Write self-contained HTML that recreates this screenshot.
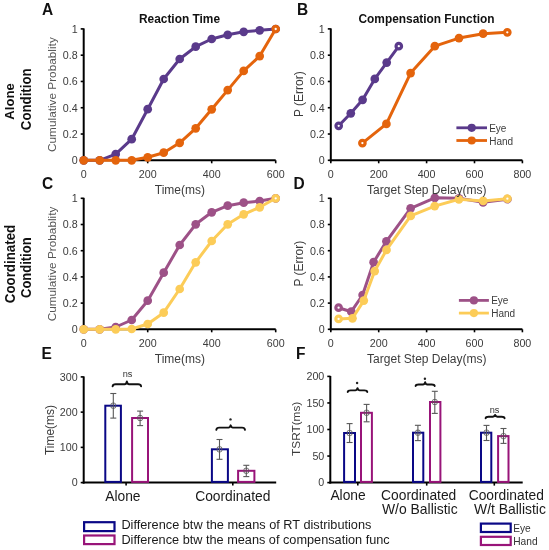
<!DOCTYPE html>
<html><head><meta charset="utf-8"><style>
html,body{margin:0;padding:0;background:#fff;}
svg{display:block;font-family:"Liberation Sans",sans-serif;will-change:transform;}
</style></head><body>
<svg width="549" height="550" viewBox="0 0 549 550">
<rect width="549" height="550" fill="#fff"/>
<line x1="83.7" y1="28.4" x2="83.7" y2="161.3" stroke="#000" stroke-width="2"/>
<line x1="82.7" y1="160.3" x2="275.7" y2="160.3" stroke="#000" stroke-width="2"/>
<line x1="80.7" y1="160.3" x2="83.7" y2="160.3" stroke="#000" stroke-width="1.6"/>
<text x="77.7" y="164.1" font-size="10.7" fill="#3c3c3c" text-anchor="end" font-weight="normal">0</text>
<line x1="80.7" y1="134.02" x2="83.7" y2="134.02" stroke="#000" stroke-width="1.6"/>
<text x="77.7" y="137.82" font-size="10.7" fill="#3c3c3c" text-anchor="end" font-weight="normal">0.2</text>
<line x1="80.7" y1="107.74" x2="83.7" y2="107.74" stroke="#000" stroke-width="1.6"/>
<text x="77.7" y="111.54" font-size="10.7" fill="#3c3c3c" text-anchor="end" font-weight="normal">0.4</text>
<line x1="80.7" y1="81.46" x2="83.7" y2="81.46" stroke="#000" stroke-width="1.6"/>
<text x="77.7" y="85.26" font-size="10.7" fill="#3c3c3c" text-anchor="end" font-weight="normal">0.6</text>
<line x1="80.7" y1="55.18" x2="83.7" y2="55.18" stroke="#000" stroke-width="1.6"/>
<text x="77.7" y="58.98" font-size="10.7" fill="#3c3c3c" text-anchor="end" font-weight="normal">0.8</text>
<line x1="80.7" y1="28.9" x2="83.7" y2="28.9" stroke="#000" stroke-width="1.6"/>
<text x="77.7" y="32.7" font-size="10.7" fill="#3c3c3c" text-anchor="end" font-weight="normal">1</text>
<line x1="83.7" y1="160.3" x2="83.7" y2="163.3" stroke="#000" stroke-width="1.6"/>
<text x="83.7" y="177.6" font-size="10.7" fill="#3c3c3c" text-anchor="middle" font-weight="normal">0</text>
<line x1="147.7" y1="160.3" x2="147.7" y2="163.3" stroke="#000" stroke-width="1.6"/>
<text x="147.7" y="177.6" font-size="10.7" fill="#3c3c3c" text-anchor="middle" font-weight="normal">200</text>
<line x1="211.7" y1="160.3" x2="211.7" y2="163.3" stroke="#000" stroke-width="1.6"/>
<text x="211.7" y="177.6" font-size="10.7" fill="#3c3c3c" text-anchor="middle" font-weight="normal">400</text>
<line x1="275.7" y1="160.3" x2="275.7" y2="163.3" stroke="#000" stroke-width="1.6"/>
<text x="275.7" y="177.6" font-size="10.7" fill="#3c3c3c" text-anchor="middle" font-weight="normal">600</text>
<line x1="330.8" y1="28.4" x2="330.8" y2="161.3" stroke="#000" stroke-width="2"/>
<line x1="329.8" y1="160.3" x2="522.4" y2="160.3" stroke="#000" stroke-width="2"/>
<line x1="327.8" y1="160.3" x2="330.8" y2="160.3" stroke="#000" stroke-width="1.6"/>
<text x="324.8" y="164.1" font-size="10.7" fill="#3c3c3c" text-anchor="end" font-weight="normal">0</text>
<line x1="327.8" y1="134.02" x2="330.8" y2="134.02" stroke="#000" stroke-width="1.6"/>
<text x="324.8" y="137.82" font-size="10.7" fill="#3c3c3c" text-anchor="end" font-weight="normal">0.2</text>
<line x1="327.8" y1="107.74" x2="330.8" y2="107.74" stroke="#000" stroke-width="1.6"/>
<text x="324.8" y="111.54" font-size="10.7" fill="#3c3c3c" text-anchor="end" font-weight="normal">0.4</text>
<line x1="327.8" y1="81.46" x2="330.8" y2="81.46" stroke="#000" stroke-width="1.6"/>
<text x="324.8" y="85.26" font-size="10.7" fill="#3c3c3c" text-anchor="end" font-weight="normal">0.6</text>
<line x1="327.8" y1="55.18" x2="330.8" y2="55.18" stroke="#000" stroke-width="1.6"/>
<text x="324.8" y="58.98" font-size="10.7" fill="#3c3c3c" text-anchor="end" font-weight="normal">0.8</text>
<line x1="327.8" y1="28.9" x2="330.8" y2="28.9" stroke="#000" stroke-width="1.6"/>
<text x="324.8" y="32.7" font-size="10.7" fill="#3c3c3c" text-anchor="end" font-weight="normal">1</text>
<line x1="330.8" y1="160.3" x2="330.8" y2="163.3" stroke="#000" stroke-width="1.6"/>
<text x="330.8" y="177.6" font-size="10.7" fill="#3c3c3c" text-anchor="middle" font-weight="normal">0</text>
<line x1="378.7" y1="160.3" x2="378.7" y2="163.3" stroke="#000" stroke-width="1.6"/>
<text x="378.7" y="177.6" font-size="10.7" fill="#3c3c3c" text-anchor="middle" font-weight="normal">200</text>
<line x1="426.6" y1="160.3" x2="426.6" y2="163.3" stroke="#000" stroke-width="1.6"/>
<text x="426.6" y="177.6" font-size="10.7" fill="#3c3c3c" text-anchor="middle" font-weight="normal">400</text>
<line x1="474.5" y1="160.3" x2="474.5" y2="163.3" stroke="#000" stroke-width="1.6"/>
<text x="474.5" y="177.6" font-size="10.7" fill="#3c3c3c" text-anchor="middle" font-weight="normal">600</text>
<line x1="522.4" y1="160.3" x2="522.4" y2="163.3" stroke="#000" stroke-width="1.6"/>
<text x="522.4" y="177.6" font-size="10.7" fill="#3c3c3c" text-anchor="middle" font-weight="normal">800</text>
<line x1="83.7" y1="197.8" x2="83.7" y2="330.3" stroke="#000" stroke-width="2"/>
<line x1="82.7" y1="329.3" x2="275.7" y2="329.3" stroke="#000" stroke-width="2"/>
<line x1="80.7" y1="329.3" x2="83.7" y2="329.3" stroke="#000" stroke-width="1.6"/>
<text x="77.7" y="333.1" font-size="10.7" fill="#3c3c3c" text-anchor="end" font-weight="normal">0</text>
<line x1="80.7" y1="303.1" x2="83.7" y2="303.1" stroke="#000" stroke-width="1.6"/>
<text x="77.7" y="306.9" font-size="10.7" fill="#3c3c3c" text-anchor="end" font-weight="normal">0.2</text>
<line x1="80.7" y1="276.9" x2="83.7" y2="276.9" stroke="#000" stroke-width="1.6"/>
<text x="77.7" y="280.7" font-size="10.7" fill="#3c3c3c" text-anchor="end" font-weight="normal">0.4</text>
<line x1="80.7" y1="250.7" x2="83.7" y2="250.7" stroke="#000" stroke-width="1.6"/>
<text x="77.7" y="254.5" font-size="10.7" fill="#3c3c3c" text-anchor="end" font-weight="normal">0.6</text>
<line x1="80.7" y1="224.5" x2="83.7" y2="224.5" stroke="#000" stroke-width="1.6"/>
<text x="77.7" y="228.3" font-size="10.7" fill="#3c3c3c" text-anchor="end" font-weight="normal">0.8</text>
<line x1="80.7" y1="198.3" x2="83.7" y2="198.3" stroke="#000" stroke-width="1.6"/>
<text x="77.7" y="202.1" font-size="10.7" fill="#3c3c3c" text-anchor="end" font-weight="normal">1</text>
<line x1="83.7" y1="329.3" x2="83.7" y2="332.3" stroke="#000" stroke-width="1.6"/>
<text x="83.7" y="346.6" font-size="10.7" fill="#3c3c3c" text-anchor="middle" font-weight="normal">0</text>
<line x1="147.7" y1="329.3" x2="147.7" y2="332.3" stroke="#000" stroke-width="1.6"/>
<text x="147.7" y="346.6" font-size="10.7" fill="#3c3c3c" text-anchor="middle" font-weight="normal">200</text>
<line x1="211.7" y1="329.3" x2="211.7" y2="332.3" stroke="#000" stroke-width="1.6"/>
<text x="211.7" y="346.6" font-size="10.7" fill="#3c3c3c" text-anchor="middle" font-weight="normal">400</text>
<line x1="275.7" y1="329.3" x2="275.7" y2="332.3" stroke="#000" stroke-width="1.6"/>
<text x="275.7" y="346.6" font-size="10.7" fill="#3c3c3c" text-anchor="middle" font-weight="normal">600</text>
<line x1="330.8" y1="197.8" x2="330.8" y2="330.3" stroke="#000" stroke-width="2"/>
<line x1="329.8" y1="329.3" x2="522.4" y2="329.3" stroke="#000" stroke-width="2"/>
<line x1="327.8" y1="329.3" x2="330.8" y2="329.3" stroke="#000" stroke-width="1.6"/>
<text x="324.8" y="333.1" font-size="10.7" fill="#3c3c3c" text-anchor="end" font-weight="normal">0</text>
<line x1="327.8" y1="303.1" x2="330.8" y2="303.1" stroke="#000" stroke-width="1.6"/>
<text x="324.8" y="306.9" font-size="10.7" fill="#3c3c3c" text-anchor="end" font-weight="normal">0.2</text>
<line x1="327.8" y1="276.9" x2="330.8" y2="276.9" stroke="#000" stroke-width="1.6"/>
<text x="324.8" y="280.7" font-size="10.7" fill="#3c3c3c" text-anchor="end" font-weight="normal">0.4</text>
<line x1="327.8" y1="250.7" x2="330.8" y2="250.7" stroke="#000" stroke-width="1.6"/>
<text x="324.8" y="254.5" font-size="10.7" fill="#3c3c3c" text-anchor="end" font-weight="normal">0.6</text>
<line x1="327.8" y1="224.5" x2="330.8" y2="224.5" stroke="#000" stroke-width="1.6"/>
<text x="324.8" y="228.3" font-size="10.7" fill="#3c3c3c" text-anchor="end" font-weight="normal">0.8</text>
<line x1="327.8" y1="198.3" x2="330.8" y2="198.3" stroke="#000" stroke-width="1.6"/>
<text x="324.8" y="202.1" font-size="10.7" fill="#3c3c3c" text-anchor="end" font-weight="normal">1</text>
<line x1="330.8" y1="329.3" x2="330.8" y2="332.3" stroke="#000" stroke-width="1.6"/>
<text x="330.8" y="346.6" font-size="10.7" fill="#3c3c3c" text-anchor="middle" font-weight="normal">0</text>
<line x1="378.7" y1="329.3" x2="378.7" y2="332.3" stroke="#000" stroke-width="1.6"/>
<text x="378.7" y="346.6" font-size="10.7" fill="#3c3c3c" text-anchor="middle" font-weight="normal">200</text>
<line x1="426.6" y1="329.3" x2="426.6" y2="332.3" stroke="#000" stroke-width="1.6"/>
<text x="426.6" y="346.6" font-size="10.7" fill="#3c3c3c" text-anchor="middle" font-weight="normal">400</text>
<line x1="474.5" y1="329.3" x2="474.5" y2="332.3" stroke="#000" stroke-width="1.6"/>
<text x="474.5" y="346.6" font-size="10.7" fill="#3c3c3c" text-anchor="middle" font-weight="normal">600</text>
<line x1="522.4" y1="329.3" x2="522.4" y2="332.3" stroke="#000" stroke-width="1.6"/>
<text x="522.4" y="346.6" font-size="10.7" fill="#3c3c3c" text-anchor="middle" font-weight="normal">800</text>
<path d="M83.70,160.30 L99.70,160.30 L115.70,154.10 L131.70,139.20 L147.70,109.20 L163.70,79.00 L179.70,59.00 L195.70,46.70 L211.70,39.00 L227.70,34.80 L243.70,31.80 L259.70,30.30 L275.70,29.00" fill="none" stroke="#5a3a8b" stroke-width="3.0" stroke-linejoin="round"/>
<circle cx="83.70" cy="160.30" r="4.35" fill="#5a3a8b"/>
<circle cx="99.70" cy="160.30" r="4.35" fill="#5a3a8b"/>
<circle cx="115.70" cy="154.10" r="4.35" fill="#5a3a8b"/>
<circle cx="131.70" cy="139.20" r="4.35" fill="#5a3a8b"/>
<circle cx="147.70" cy="109.20" r="4.35" fill="#5a3a8b"/>
<circle cx="163.70" cy="79.00" r="4.35" fill="#5a3a8b"/>
<circle cx="179.70" cy="59.00" r="4.35" fill="#5a3a8b"/>
<circle cx="195.70" cy="46.70" r="4.35" fill="#5a3a8b"/>
<circle cx="211.70" cy="39.00" r="4.35" fill="#5a3a8b"/>
<circle cx="227.70" cy="34.80" r="4.35" fill="#5a3a8b"/>
<circle cx="243.70" cy="31.80" r="4.35" fill="#5a3a8b"/>
<circle cx="259.70" cy="30.30" r="4.35" fill="#5a3a8b"/>
<circle cx="275.70" cy="29.00" r="2.75" fill="#fff" stroke="#5a3a8b" stroke-width="3.2"/>
<path d="M83.70,160.30 L99.70,160.30 L115.70,160.30 L131.70,160.30 L147.70,157.30 L163.70,152.70 L179.70,142.80 L195.70,128.30 L211.70,109.30 L227.70,90.10 L243.70,70.90 L259.70,56.10 L275.70,29.00" fill="none" stroke="#e4640c" stroke-width="3.0" stroke-linejoin="round"/>
<circle cx="83.70" cy="160.30" r="4.35" fill="#e4640c"/>
<circle cx="99.70" cy="160.30" r="4.35" fill="#e4640c"/>
<circle cx="115.70" cy="160.30" r="4.35" fill="#e4640c"/>
<circle cx="131.70" cy="160.30" r="4.35" fill="#e4640c"/>
<circle cx="147.70" cy="157.30" r="4.35" fill="#e4640c"/>
<circle cx="163.70" cy="152.70" r="4.35" fill="#e4640c"/>
<circle cx="179.70" cy="142.80" r="4.35" fill="#e4640c"/>
<circle cx="195.70" cy="128.30" r="4.35" fill="#e4640c"/>
<circle cx="211.70" cy="109.30" r="4.35" fill="#e4640c"/>
<circle cx="227.70" cy="90.10" r="4.35" fill="#e4640c"/>
<circle cx="243.70" cy="70.90" r="4.35" fill="#e4640c"/>
<circle cx="259.70" cy="56.10" r="4.35" fill="#e4640c"/>
<circle cx="275.70" cy="29.00" r="2.75" fill="#fff" stroke="#e4640c" stroke-width="3.2"/>
<path d="M83.70,329.30 L99.70,329.30 L115.70,327.00 L131.70,320.00 L147.70,300.70 L163.70,272.70 L179.70,245.00 L195.70,224.30 L211.70,212.30 L227.70,205.70 L243.70,202.70 L259.70,201.00 L275.70,198.30" fill="none" stroke="#9d5187" stroke-width="3.0" stroke-linejoin="round"/>
<circle cx="83.70" cy="329.30" r="4.35" fill="#9d5187"/>
<circle cx="99.70" cy="329.30" r="4.35" fill="#9d5187"/>
<circle cx="115.70" cy="327.00" r="4.35" fill="#9d5187"/>
<circle cx="131.70" cy="320.00" r="4.35" fill="#9d5187"/>
<circle cx="147.70" cy="300.70" r="4.35" fill="#9d5187"/>
<circle cx="163.70" cy="272.70" r="4.35" fill="#9d5187"/>
<circle cx="179.70" cy="245.00" r="4.35" fill="#9d5187"/>
<circle cx="195.70" cy="224.30" r="4.35" fill="#9d5187"/>
<circle cx="211.70" cy="212.30" r="4.35" fill="#9d5187"/>
<circle cx="227.70" cy="205.70" r="4.35" fill="#9d5187"/>
<circle cx="243.70" cy="202.70" r="4.35" fill="#9d5187"/>
<circle cx="259.70" cy="201.00" r="4.35" fill="#9d5187"/>
<circle cx="275.70" cy="198.30" r="2.75" fill="#fff" stroke="#9d5187" stroke-width="3.2"/>
<path d="M83.70,329.30 L99.70,329.30 L115.70,329.30 L131.70,329.00 L147.70,324.00 L163.70,312.70 L179.70,289.00 L195.70,262.30 L211.70,241.00 L227.70,224.30 L243.70,214.30 L259.70,207.30 L275.70,198.30" fill="none" stroke="#fccc58" stroke-width="3.0" stroke-linejoin="round"/>
<circle cx="83.70" cy="329.30" r="4.35" fill="#fccc58"/>
<circle cx="99.70" cy="329.30" r="4.35" fill="#fccc58"/>
<circle cx="115.70" cy="329.30" r="4.35" fill="#fccc58"/>
<circle cx="131.70" cy="329.00" r="4.35" fill="#fccc58"/>
<circle cx="147.70" cy="324.00" r="4.35" fill="#fccc58"/>
<circle cx="163.70" cy="312.70" r="4.35" fill="#fccc58"/>
<circle cx="179.70" cy="289.00" r="4.35" fill="#fccc58"/>
<circle cx="195.70" cy="262.30" r="4.35" fill="#fccc58"/>
<circle cx="211.70" cy="241.00" r="4.35" fill="#fccc58"/>
<circle cx="227.70" cy="224.30" r="4.35" fill="#fccc58"/>
<circle cx="243.70" cy="214.30" r="4.35" fill="#fccc58"/>
<circle cx="259.70" cy="207.30" r="4.35" fill="#fccc58"/>
<circle cx="275.70" cy="198.30" r="2.75" fill="#fff" stroke="#fccc58" stroke-width="3.2"/>
<path d="M338.70,125.80 L350.80,113.30 L362.60,99.80 L374.80,78.90 L386.70,62.60 L398.80,46.20" fill="none" stroke="#5a3a8b" stroke-width="3.0" stroke-linejoin="round"/>
<circle cx="338.70" cy="125.80" r="2.75" fill="#fff" stroke="#5a3a8b" stroke-width="3.2"/>
<circle cx="350.80" cy="113.30" r="4.35" fill="#5a3a8b"/>
<circle cx="362.60" cy="99.80" r="4.35" fill="#5a3a8b"/>
<circle cx="374.80" cy="78.90" r="4.35" fill="#5a3a8b"/>
<circle cx="386.70" cy="62.60" r="4.35" fill="#5a3a8b"/>
<circle cx="398.80" cy="46.20" r="2.75" fill="#fff" stroke="#5a3a8b" stroke-width="3.2"/>
<path d="M362.40,143.10 L386.40,123.90 L410.60,73.10 L434.80,46.20 L459.00,38.10 L483.10,33.70 L507.30,32.30" fill="none" stroke="#e4640c" stroke-width="3.0" stroke-linejoin="round"/>
<circle cx="362.40" cy="143.10" r="2.75" fill="#fff" stroke="#e4640c" stroke-width="3.2"/>
<circle cx="386.40" cy="123.90" r="4.35" fill="#e4640c"/>
<circle cx="410.60" cy="73.10" r="4.35" fill="#e4640c"/>
<circle cx="434.80" cy="46.20" r="4.35" fill="#e4640c"/>
<circle cx="459.00" cy="38.10" r="4.35" fill="#e4640c"/>
<circle cx="483.10" cy="33.70" r="4.35" fill="#e4640c"/>
<circle cx="507.30" cy="32.30" r="2.75" fill="#fff" stroke="#e4640c" stroke-width="3.2"/>
<path d="M338.60,307.70 L351.30,311.70 L362.60,295.00 L373.60,262.20 L386.40,241.30 L410.60,208.30 L434.80,197.80 L459.00,198.30 L483.10,202.30 L507.40,199.20" fill="none" stroke="#9d5187" stroke-width="3.0" stroke-linejoin="round"/>
<circle cx="338.60" cy="307.70" r="2.75" fill="#fff" stroke="#9d5187" stroke-width="3.2"/>
<circle cx="351.30" cy="311.70" r="4.35" fill="#9d5187"/>
<circle cx="362.60" cy="295.00" r="4.35" fill="#9d5187"/>
<circle cx="373.60" cy="262.20" r="4.35" fill="#9d5187"/>
<circle cx="386.40" cy="241.30" r="4.35" fill="#9d5187"/>
<circle cx="410.60" cy="208.30" r="4.35" fill="#9d5187"/>
<circle cx="434.80" cy="197.80" r="4.35" fill="#9d5187"/>
<circle cx="459.00" cy="198.30" r="4.35" fill="#9d5187"/>
<circle cx="483.10" cy="202.30" r="4.35" fill="#9d5187"/>
<circle cx="507.40" cy="199.20" r="2.75" fill="#fff" stroke="#9d5187" stroke-width="3.2"/>
<path d="M338.60,318.90 L352.50,318.30 L363.80,300.60 L374.70,271.10 L386.50,249.90 L410.70,215.90 L434.70,206.10 L458.90,199.30 L483.20,200.90 L507.40,198.70" fill="none" stroke="#fccc58" stroke-width="3.0" stroke-linejoin="round"/>
<circle cx="338.60" cy="318.90" r="2.75" fill="#fff" stroke="#fccc58" stroke-width="3.2"/>
<circle cx="352.50" cy="318.30" r="4.35" fill="#fccc58"/>
<circle cx="363.80" cy="300.60" r="4.35" fill="#fccc58"/>
<circle cx="374.70" cy="271.10" r="4.35" fill="#fccc58"/>
<circle cx="386.50" cy="249.90" r="4.35" fill="#fccc58"/>
<circle cx="410.70" cy="215.90" r="4.35" fill="#fccc58"/>
<circle cx="434.70" cy="206.10" r="4.35" fill="#fccc58"/>
<circle cx="458.90" cy="199.30" r="4.35" fill="#fccc58"/>
<circle cx="483.20" cy="200.90" r="4.35" fill="#fccc58"/>
<circle cx="507.40" cy="198.70" r="2.75" fill="#fff" stroke="#fccc58" stroke-width="3.2"/>
<line x1="456.4" y1="127.8" x2="487" y2="127.8" stroke="#5a3a8b" stroke-width="2.8"/>
<circle cx="471.7" cy="127.8" r="4.1" fill="#5a3a8b"/>
<text x="489.2" y="131.6" font-size="10" fill="#3c3c3c" text-anchor="start" font-weight="normal">Eye</text>
<line x1="456.4" y1="140.5" x2="487" y2="140.5" stroke="#e4640c" stroke-width="2.8"/>
<circle cx="471.7" cy="140.5" r="4.1" fill="#e4640c"/>
<text x="489.2" y="144.6" font-size="10" fill="#3c3c3c" text-anchor="start" font-weight="normal">Hand</text>
<line x1="458.9" y1="300.4" x2="488.9" y2="300.4" stroke="#9d5187" stroke-width="2.8"/>
<circle cx="473.9" cy="300.4" r="4.1" fill="#9d5187"/>
<text x="491.2" y="303.9" font-size="10" fill="#3c3c3c" text-anchor="start" font-weight="normal">Eye</text>
<line x1="458.9" y1="313.1" x2="488.9" y2="313.1" stroke="#fccc58" stroke-width="2.8"/>
<circle cx="473.9" cy="313.1" r="4.1" fill="#fccc58"/>
<text x="491.2" y="316.7" font-size="10" fill="#3c3c3c" text-anchor="start" font-weight="normal">Hand</text>
<text x="42.1" y="15.3" font-size="16.7" fill="#111" text-anchor="start" font-weight="bold" textLength="11.19" lengthAdjust="spacingAndGlyphs">A</text>
<text x="296.9" y="15.3" font-size="16.7" fill="#111" text-anchor="start" font-weight="bold" textLength="11.19" lengthAdjust="spacingAndGlyphs">B</text>
<text x="42.1" y="189.2" font-size="16.7" fill="#111" text-anchor="start" font-weight="bold" textLength="11.19" lengthAdjust="spacingAndGlyphs">C</text>
<text x="293.6" y="189.2" font-size="16.7" fill="#111" text-anchor="start" font-weight="bold" textLength="11.19" lengthAdjust="spacingAndGlyphs">D</text>
<text x="41.4" y="359.4" font-size="16.7" fill="#111" text-anchor="start" font-weight="bold" textLength="10.34" lengthAdjust="spacingAndGlyphs">E</text>
<text x="296" y="359.1" font-size="16.7" fill="#111" text-anchor="start" font-weight="bold" textLength="9.47" lengthAdjust="spacingAndGlyphs">F</text>
<text x="179.5" y="23.3" font-size="11.9" fill="#111" text-anchor="middle" font-weight="bold">Reaction Time</text>
<text x="426.5" y="23.3" font-size="11.9" fill="#111" text-anchor="middle" font-weight="bold">Compensation Function</text>
<text x="179.9" y="193.6" font-size="12" fill="#3c3c3c" text-anchor="middle" font-weight="normal">Time(ms)</text>
<text x="426.8" y="193.6" font-size="12" fill="#3c3c3c" text-anchor="middle" font-weight="normal">Target Step Delay(ms)</text>
<text x="179.9" y="362.7" font-size="12" fill="#3c3c3c" text-anchor="middle" font-weight="normal">Time(ms)</text>
<text x="426.8" y="362.7" font-size="12" fill="#3c3c3c" text-anchor="middle" font-weight="normal">Target Step Delay(ms)</text>
<text x="56.3" y="94.6" font-size="11.8" fill="#555" text-anchor="middle" font-weight="normal" transform="rotate(-90 56.3 94.6)">Cumulative Probablity</text>
<text x="56.3" y="264" font-size="11.8" fill="#555" text-anchor="middle" font-weight="normal" transform="rotate(-90 56.3 264)">Cumulative Probablity</text>
<text x="302.7" y="94.2" font-size="12" fill="#3c3c3c" text-anchor="middle" font-weight="normal" transform="rotate(-90 302.7 94.2)">P (Error)</text>
<text x="302.7" y="263.6" font-size="12" fill="#3c3c3c" text-anchor="middle" font-weight="normal" transform="rotate(-90 302.7 263.6)">P (Error)</text>
<text x="14.4" y="101.5" font-size="13.6" fill="#111" text-anchor="middle" font-weight="bold" transform="rotate(-90 14.4 101.5)" textLength="36.3" lengthAdjust="spacingAndGlyphs">Alone</text>
<text x="30.9" y="99.3" font-size="13.9" fill="#111" text-anchor="middle" font-weight="bold" transform="rotate(-90 30.9 99.3)" textLength="61.7" lengthAdjust="spacingAndGlyphs">Condition</text>
<text x="15" y="264" font-size="13.8" fill="#111" text-anchor="middle" font-weight="bold" transform="rotate(-90 15 264)" textLength="78.4" lengthAdjust="spacingAndGlyphs">Coordinated</text>
<text x="31.1" y="267.7" font-size="13.9" fill="#111" text-anchor="middle" font-weight="bold" transform="rotate(-90 31.1 267.7)" textLength="60.6" lengthAdjust="spacingAndGlyphs">Condition</text>
<line x1="83.7" y1="376.4" x2="83.7" y2="483.6" stroke="#000" stroke-width="2"/>
<line x1="82.7" y1="482.6" x2="276.2" y2="482.6" stroke="#000" stroke-width="2"/>
<line x1="80.7" y1="482.6" x2="83.7" y2="482.6" stroke="#000" stroke-width="1.6"/>
<text x="77.7" y="486.4" font-size="10.7" fill="#3c3c3c" text-anchor="end" font-weight="normal">0</text>
<line x1="80.7" y1="447.37" x2="83.7" y2="447.37" stroke="#000" stroke-width="1.6"/>
<text x="77.7" y="451.17" font-size="10.7" fill="#3c3c3c" text-anchor="end" font-weight="normal">100</text>
<line x1="80.7" y1="412.13" x2="83.7" y2="412.13" stroke="#000" stroke-width="1.6"/>
<text x="77.7" y="415.93" font-size="10.7" fill="#3c3c3c" text-anchor="end" font-weight="normal">200</text>
<line x1="80.7" y1="376.9" x2="83.7" y2="376.9" stroke="#000" stroke-width="1.6"/>
<text x="77.7" y="380.7" font-size="10.7" fill="#3c3c3c" text-anchor="end" font-weight="normal">300</text>
<line x1="126.1" y1="482.6" x2="126.1" y2="485.6" stroke="#000" stroke-width="1.6"/>
<line x1="232.8" y1="482.6" x2="232.8" y2="485.6" stroke="#000" stroke-width="1.6"/>
<text x="105.2" y="500.6" font-size="13.8" fill="#1a1a1a" text-anchor="start" font-weight="normal">Alone</text>
<text x="195.2" y="500.5" font-size="13.8" fill="#1a1a1a" text-anchor="start" font-weight="normal">Coordinated</text>
<text x="53.5" y="430" font-size="12" fill="#3c3c3c" text-anchor="middle" font-weight="normal" transform="rotate(-90 53.5 430)">Time(ms)</text>
<rect x="105.3" y="405.7" width="15.6" height="76.2" fill="#fff" stroke="#0a0886" stroke-width="2.0"/>
<rect x="132.1" y="418.0" width="15.9" height="63.9" fill="#fff" stroke="#981479" stroke-width="2.0"/>
<rect x="211.9" y="449.3" width="16.0" height="32.6" fill="#fff" stroke="#0a0886" stroke-width="2.0"/>
<rect x="238.1" y="470.8" width="16.3" height="11.1" fill="#fff" stroke="#981479" stroke-width="2.0"/>
<line x1="113.3" y1="393.5" x2="113.3" y2="418.1" stroke="#585858" stroke-width="1.1"/>
<line x1="110.3" y1="393.5" x2="116.3" y2="393.5" stroke="#585858" stroke-width="1.1"/>
<line x1="110.3" y1="418.1" x2="116.3" y2="418.1" stroke="#585858" stroke-width="1.1"/>
<rect x="111.00" y="403.20" width="4.6" height="5" rx="1.3" fill="none" stroke="#585858" stroke-width="0.9"/>
<line x1="140.1" y1="411.1" x2="140.1" y2="425.6" stroke="#585858" stroke-width="1.1"/>
<line x1="137.1" y1="411.1" x2="143.1" y2="411.1" stroke="#585858" stroke-width="1.1"/>
<line x1="137.1" y1="425.6" x2="143.1" y2="425.6" stroke="#585858" stroke-width="1.1"/>
<rect x="137.80" y="415.50" width="4.6" height="5" rx="1.3" fill="none" stroke="#585858" stroke-width="0.9"/>
<line x1="219.5" y1="439.5" x2="219.5" y2="459.3" stroke="#585858" stroke-width="1.1"/>
<line x1="216.5" y1="439.5" x2="222.5" y2="439.5" stroke="#585858" stroke-width="1.1"/>
<line x1="216.5" y1="459.3" x2="222.5" y2="459.3" stroke="#585858" stroke-width="1.1"/>
<rect x="217.20" y="446.80" width="4.6" height="5" rx="1.3" fill="none" stroke="#585858" stroke-width="0.9"/>
<line x1="246.3" y1="465.3" x2="246.3" y2="476.6" stroke="#585858" stroke-width="1.1"/>
<line x1="243.3" y1="465.3" x2="249.3" y2="465.3" stroke="#585858" stroke-width="1.1"/>
<line x1="243.3" y1="476.6" x2="249.3" y2="476.6" stroke="#585858" stroke-width="1.1"/>
<rect x="244.00" y="468.30" width="4.6" height="5" rx="1.3" fill="none" stroke="#585858" stroke-width="0.9"/>
<path d="M112.6,386.3 Q112.9,384.3 115.6,384.3 L124.65,384.3 Q126.25,384.3 126.85,381.5 Q127.45,384.3 129.05,384.3 L138.1,384.3 Q140.8,384.3 141.1,386.3" fill="none" stroke="#111" stroke-width="1.9" stroke-linecap="round" stroke-linejoin="round"/>
<text x="127.5" y="376.7" font-size="9.2" fill="#333" text-anchor="middle" font-weight="normal">ns</text>
<path d="M216.3,429.9 Q216.6,427.6 219.3,427.6 L228.45,427.6 Q230.05,427.6 230.65,425.3 Q231.25,427.6 232.85,427.6 L242,427.6 Q244.7,427.6 245,429.9" fill="none" stroke="#111" stroke-width="1.9" stroke-linecap="round" stroke-linejoin="round"/>
<circle cx="230.5" cy="419.4" r="1.2" fill="#222"/>
<line x1="330.3" y1="375.9" x2="330.3" y2="483.6" stroke="#000" stroke-width="2"/>
<line x1="329.3" y1="482.6" x2="522.7" y2="482.6" stroke="#000" stroke-width="2"/>
<line x1="327.3" y1="482.6" x2="330.3" y2="482.6" stroke="#000" stroke-width="1.6"/>
<text x="324.3" y="486.4" font-size="10.7" fill="#3c3c3c" text-anchor="end" font-weight="normal">0</text>
<line x1="327.3" y1="456.05" x2="330.3" y2="456.05" stroke="#000" stroke-width="1.6"/>
<text x="324.3" y="459.85" font-size="10.7" fill="#3c3c3c" text-anchor="end" font-weight="normal">50</text>
<line x1="327.3" y1="429.5" x2="330.3" y2="429.5" stroke="#000" stroke-width="1.6"/>
<text x="324.3" y="433.3" font-size="10.7" fill="#3c3c3c" text-anchor="end" font-weight="normal">100</text>
<line x1="327.3" y1="402.95" x2="330.3" y2="402.95" stroke="#000" stroke-width="1.6"/>
<text x="324.3" y="406.75" font-size="10.7" fill="#3c3c3c" text-anchor="end" font-weight="normal">150</text>
<line x1="327.3" y1="376.4" x2="330.3" y2="376.4" stroke="#000" stroke-width="1.6"/>
<text x="324.3" y="380.2" font-size="10.7" fill="#3c3c3c" text-anchor="end" font-weight="normal">200</text>
<line x1="357.8" y1="482.6" x2="357.8" y2="485.6" stroke="#000" stroke-width="1.6"/>
<line x1="426.7" y1="482.6" x2="426.7" y2="485.6" stroke="#000" stroke-width="1.6"/>
<line x1="494.3" y1="482.6" x2="494.3" y2="485.6" stroke="#000" stroke-width="1.6"/>
<text x="330.4" y="500" font-size="13.8" fill="#1a1a1a" text-anchor="start" font-weight="normal">Alone</text>
<text x="381.1" y="499.7" font-size="13.8" fill="#1a1a1a" text-anchor="start" font-weight="normal">Coordinated</text>
<text x="382" y="514.1" font-size="13.9" fill="#1a1a1a" text-anchor="start" font-weight="normal">W/o Ballistic</text>
<text x="468.7" y="499.7" font-size="13.8" fill="#1a1a1a" text-anchor="start" font-weight="normal">Coordinated</text>
<text x="474.1" y="514.1" font-size="13.9" fill="#1a1a1a" text-anchor="start" font-weight="normal">W/t Ballistic</text>
<text x="300" y="428.8" font-size="11.8" fill="#3c3c3c" text-anchor="middle" font-weight="normal" transform="rotate(-90 300 428.8)">TSRT(ms)</text>
<rect x="344.1" y="433.0" width="10.9" height="48.9" fill="#fff" stroke="#0a0886" stroke-width="2.0"/>
<rect x="361.0" y="412.8" width="10.9" height="69.1" fill="#fff" stroke="#981479" stroke-width="2.0"/>
<rect x="413.0" y="432.7" width="10.3" height="49.2" fill="#fff" stroke="#0a0886" stroke-width="2.0"/>
<rect x="430.0" y="402.0" width="10.4" height="79.9" fill="#fff" stroke="#981479" stroke-width="2.0"/>
<rect x="481.0" y="432.7" width="10.3" height="49.2" fill="#fff" stroke="#0a0886" stroke-width="2.0"/>
<rect x="498.1" y="436.1" width="10.4" height="45.8" fill="#fff" stroke="#981479" stroke-width="2.0"/>
<line x1="349.6" y1="423.6" x2="349.6" y2="442.5" stroke="#585858" stroke-width="1.1"/>
<line x1="346.6" y1="423.6" x2="352.6" y2="423.6" stroke="#585858" stroke-width="1.1"/>
<line x1="346.6" y1="442.5" x2="352.6" y2="442.5" stroke="#585858" stroke-width="1.1"/>
<rect x="347.30" y="430.50" width="4.6" height="5" rx="1.3" fill="none" stroke="#585858" stroke-width="0.9"/>
<line x1="366.6" y1="404.4" x2="366.6" y2="421.8" stroke="#585858" stroke-width="1.1"/>
<line x1="363.6" y1="404.4" x2="369.6" y2="404.4" stroke="#585858" stroke-width="1.1"/>
<line x1="363.6" y1="421.8" x2="369.6" y2="421.8" stroke="#585858" stroke-width="1.1"/>
<rect x="364.30" y="410.30" width="4.6" height="5" rx="1.3" fill="none" stroke="#585858" stroke-width="0.9"/>
<line x1="417.9" y1="425.3" x2="417.9" y2="440.6" stroke="#585858" stroke-width="1.1"/>
<line x1="414.9" y1="425.3" x2="420.9" y2="425.3" stroke="#585858" stroke-width="1.1"/>
<line x1="414.9" y1="440.6" x2="420.9" y2="440.6" stroke="#585858" stroke-width="1.1"/>
<rect x="415.60" y="430.20" width="4.6" height="5" rx="1.3" fill="none" stroke="#585858" stroke-width="0.9"/>
<line x1="434.8" y1="391.3" x2="434.8" y2="413.4" stroke="#585858" stroke-width="1.1"/>
<line x1="431.8" y1="391.3" x2="437.8" y2="391.3" stroke="#585858" stroke-width="1.1"/>
<line x1="431.8" y1="413.4" x2="437.8" y2="413.4" stroke="#585858" stroke-width="1.1"/>
<rect x="432.50" y="399.50" width="4.6" height="5" rx="1.3" fill="none" stroke="#585858" stroke-width="0.9"/>
<line x1="486.5" y1="425.4" x2="486.5" y2="440.5" stroke="#585858" stroke-width="1.1"/>
<line x1="483.5" y1="425.4" x2="489.5" y2="425.4" stroke="#585858" stroke-width="1.1"/>
<line x1="483.5" y1="440.5" x2="489.5" y2="440.5" stroke="#585858" stroke-width="1.1"/>
<rect x="484.20" y="430.20" width="4.6" height="5" rx="1.3" fill="none" stroke="#585858" stroke-width="0.9"/>
<line x1="503.5" y1="428.5" x2="503.5" y2="443.4" stroke="#585858" stroke-width="1.1"/>
<line x1="500.5" y1="428.5" x2="506.5" y2="428.5" stroke="#585858" stroke-width="1.1"/>
<line x1="500.5" y1="443.4" x2="506.5" y2="443.4" stroke="#585858" stroke-width="1.1"/>
<rect x="501.20" y="433.60" width="4.6" height="5" rx="1.3" fill="none" stroke="#585858" stroke-width="0.9"/>
<path d="M347.7,392 Q348,390.4 350.7,390.4 L355.3,390.4 Q356.9,390.4 357.5,388.1 Q358.1,390.4 359.7,390.4 L364.3,390.4 Q367,390.4 367.3,392" fill="none" stroke="#111" stroke-width="1.9" stroke-linecap="round" stroke-linejoin="round"/>
<circle cx="357.1" cy="383" r="1.2" fill="#222"/>
<path d="M415.6,386 Q415.9,384.5 418.6,384.5 L422.95,384.5 Q424.55,384.5 425.15,382.2 Q425.75,384.5 427.35,384.5 L431.7,384.5 Q434.4,384.5 434.7,386" fill="none" stroke="#111" stroke-width="1.9" stroke-linecap="round" stroke-linejoin="round"/>
<circle cx="424.9" cy="378.8" r="1.2" fill="#222"/>
<path d="M485.6,418.2 Q485.9,416.7 488.6,416.7 L492.9,416.7 Q494.5,416.7 495.1,414.9 Q495.7,416.7 497.3,416.7 L501.6,416.7 Q504.3,416.7 504.6,418.2" fill="none" stroke="#111" stroke-width="1.9" stroke-linecap="round" stroke-linejoin="round"/>
<text x="494.5" y="412.9" font-size="9.2" fill="#333" text-anchor="middle" font-weight="normal">ns</text>
<rect x="84.1" y="522.2" width="30.4" height="8.9" fill="#fff" stroke="#0a0886" stroke-width="2.2"/>
<rect x="84.1" y="535.5" width="30.4" height="8.6" fill="#fff" stroke="#981479" stroke-width="2.2"/>
<text x="121.4" y="528.9" font-size="11.9" fill="#1a1a1a" text-anchor="start" font-weight="normal" textLength="250" lengthAdjust="spacingAndGlyphs">Difference btw the means of RT distributions</text>
<text x="121.4" y="543.5" font-size="11.9" fill="#1a1a1a" text-anchor="start" font-weight="normal" textLength="268.3" lengthAdjust="spacingAndGlyphs">Difference btw the means of compensation func</text>
<rect x="480.9" y="523.6" width="29.8" height="8.4" fill="#fff" stroke="#0a0886" stroke-width="2.2"/>
<rect x="480.9" y="536.8" width="29.8" height="8.2" fill="#fff" stroke="#981479" stroke-width="2.2"/>
<text x="513.2" y="532" font-size="10.2" fill="#333" text-anchor="start" font-weight="normal">Eye</text>
<text x="513.2" y="545.3" font-size="10.2" fill="#333" text-anchor="start" font-weight="normal">Hand</text>
</svg></body></html>
